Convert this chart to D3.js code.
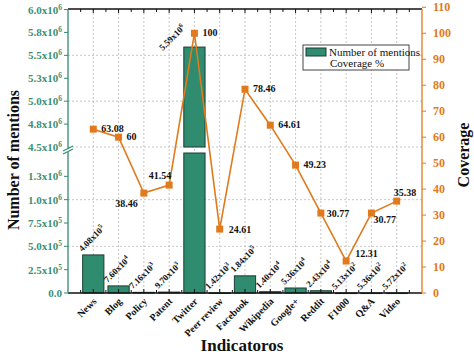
<!DOCTYPE html>
<html><head><meta charset="utf-8">
<script src="https://cdn.jsdelivr.net/npm/d3@7"></script>
<style>body{margin:0;background:#fff}svg{display:block}</style>
</head><body><svg id="c" width="474" height="357"></svg>
<script>
const categories = ["News","Blog","Policy","Patent","Twitter","Peer review","Facebook","Wikipedia","Google+","Reddit","F1000","Q&A","Video"];
const mentions = [408000,76000,7160,9700,5590000,1420,184000,14000,53600,24300,513,536,572];
const mentionLabels = [["4.08x10","5"],["7.60x10","4"],["7.16x10","3"],["9.70x10","3"],["5.59x10","6"],["1.42x10","3"],["1.84x10","5"],["1.40x10","4"],["5.36x10","4"],["2.43x10","4"],["5.13x10","2"],["5.36x10","2"],["5.72x10","2"]];
const coverage = [63.08,60,38.46,41.54,100,24.61,78.46,64.61,49.23,30.77,12.31,30.77,35.38];
const coverageLabels = ["63.08","60","38.46","41.54","100","24.61","78.46","64.61","49.23","30.77","12.31","30.77","35.38"];
const lowerTicks = [0,250000,500000,750000,1000000,1250000];
const lowerTickLabels = [["0.0",""],["2.5x10","5"],["5.0x10","5"],["7.5x10","5"],["1.0x10","6"],["1.3x10","6"]];
const upperTicks = [4500000,4750000,5000000,5250000,5500000,5750000,6000000];
const upperTickLabels = [["4.5x10","6"],["4.8x10","6"],["5.0x10","6"],["5.3x10","6"],["5.5x10","6"],["5.8x10","6"],["6.0x10","6"]];
const rightTicks = [0,10,20,30,40,50,60,70,80,90,100,110];
const gridMentions = [500000,1000000,4500000,5000000,5500000];

const svg = d3.select("#c");
const FONT = "'Liberation Serif','Times New Roman',serif";
const TEAL = "#2f8c6f", TEALTXT = "#3e8f74", ORANGE = "#e07a1c";
const L = 68, R = 422, T = 9, B = 293, BRK_LO = 153, BRK_HI = 147;

const x = d3.scaleLinear().domain([-1, 13]).range([L, R]);
const step = x(1) - x(0);
const yLo = d3.scaleLinear().domain([0, 1500000]).range([B, BRK_LO]);
const yHi = d3.scaleLinear().domain([4500000, 6000000]).range([BRK_HI, T + 0.5]);
const yM = v => v <= 1500000 ? yLo(v) : yHi(v);
const yR = d3.scaleLinear().domain([0, 110]).range([B, 7.3]);

// grid
const g = svg.append("g");
g.selectAll(".vg").data(categories).enter().append("line")
  .attr("x1", (d,i)=>x(i)).attr("x2",(d,i)=>x(i)).attr("y1",T).attr("y2",B)
  .attr("stroke","#b8b8b8").attr("stroke-width",0.8).attr("stroke-dasharray","2,2");
g.selectAll(".hg").data(gridMentions).enter().append("line")
  .attr("x1",L).attr("x2",R).attr("y1",d=>yM(d)).attr("y2",d=>yM(d))
  .attr("stroke","#b8b8b8").attr("stroke-width",0.8).attr("stroke-dasharray","2,2");

// bars
const bw = step*0.84;
const bars = svg.append("g");
categories.forEach((c,i)=>{
  const v = mentions[i];
  if (v <= 1500000) {
    bars.append("rect").attr("x",x(i)-bw/2).attr("y",yLo(v)).attr("width",bw).attr("height",Math.max(0.6,B-yLo(v)))
      .attr("fill",TEAL).attr("stroke","#1c3d33").attr("stroke-width",1);
  } else {
    bars.append("rect").attr("x",x(i)-bw/2).attr("y",BRK_LO).attr("width",bw).attr("height",B-BRK_LO)
      .attr("fill",TEAL).attr("stroke","#1c3d33").attr("stroke-width",1);
    bars.append("rect").attr("x",x(i)-bw/2).attr("y",yHi(v)).attr("width",bw).attr("height",BRK_HI-yHi(v))
      .attr("fill",TEAL).attr("stroke","#1c3d33").attr("stroke-width",1);
  }
});

// bar labels
categories.forEach((c,i)=>{
  const v = mentions[i], top = yM(v);
  let t;
  if (v > 1500000) {
    t = svg.append("text").attr("transform",`translate(${x(i)-bw/2+2},${top-19}) rotate(-45)`).attr("text-anchor","end");
  } else {
    t = svg.append("text").attr("transform",`translate(${x(i)-11},${top-3}) rotate(-45)`);
  }
  t.attr("font-family",FONT).attr("font-weight","bold").attr("font-size",9).attr("fill","#111");
  t.append("tspan").text(mentionLabels[i][0]);
  t.append("tspan").attr("dy",-3.5).attr("font-size",6.5).text(mentionLabels[i][1]);
});

// top & bottom axes
svg.append("line").attr("x1",L).attr("x2",R).attr("y1",T).attr("y2",T).attr("stroke","#111").attr("stroke-width",1.3);
svg.append("line").attr("x1",L).attr("x2",R).attr("y1",B).attr("y2",B).attr("stroke","#111").attr("stroke-width",1.3);
const tickPos = d3.range(-0.5, 13, 0.5);
tickPos.forEach(p=>{
  const len = Number.isInteger(p) ? 4 : 3;
  svg.append("line").attr("x1",x(p)).attr("x2",x(p)).attr("y1",T).attr("y2",T+len).attr("stroke","#111");
  svg.append("line").attr("x1",x(p)).attr("x2",x(p)).attr("y1",B).attr("y2",B-len).attr("stroke","#111");
});

// x labels
categories.forEach((c,i)=>{
  svg.append("text").attr("transform",`translate(${x(i)+4},${B+9}) rotate(-45)`).attr("text-anchor","end")
    .attr("font-family",FONT).attr("font-weight","bold").attr("font-size",10).attr("fill","#111").text(c);
});

// left axis
svg.append("line").attr("x1",L).attr("x2",L).attr("y1",T).attr("y2",BRK_HI+1).attr("stroke",TEAL).attr("stroke-width",1.3);
svg.append("line").attr("x1",L).attr("x2",L).attr("y1",BRK_LO-1).attr("y2",B).attr("stroke",TEAL).attr("stroke-width",1.3);
[BRK_HI+1.5, BRK_LO-1.5].forEach(yy=>{
  svg.append("line").attr("x1",L-5).attr("x2",L+5).attr("y1",yy+2.5).attr("y2",yy-2.5).attr("stroke",TEAL).attr("stroke-width",1.2);
});
function leftTicks(vals, labs, sc){
  vals.forEach((v,i)=>{
    if (!(sc === yHi && i === 0)) svg.append("line").attr("x1",L-4).attr("x2",L).attr("y1",sc(v)).attr("y2",sc(v)).attr("stroke",TEAL);
    const t = svg.append("text").attr("x",L-6).attr("y",sc(v)+4).attr("text-anchor","end")
      .attr("font-family",FONT).attr("font-weight","bold").attr("font-size",11).attr("fill",TEALTXT);
    t.append("tspan").text(labs[i][0]);
    if (labs[i][1]) t.append("tspan").attr("dy",-4).attr("font-size",7.5).text(labs[i][1]);
  });
}
leftTicks(lowerTicks, lowerTickLabels, yLo);
leftTicks(upperTicks, upperTickLabels, yHi);

// right axis
svg.append("line").attr("x1",R).attr("x2",R).attr("y1",T).attr("y2",B).attr("stroke",ORANGE).attr("stroke-width",1.3);
rightTicks.forEach(v=>{
  svg.append("line").attr("x1",R).attr("x2",R+4).attr("y1",yR(v)).attr("y2",yR(v)).attr("stroke",ORANGE);
  svg.append("text").attr("x",R+11).attr("y",yR(v)+4).attr("font-family",FONT).attr("font-weight","bold")
    .attr("font-size",12).attr("fill",ORANGE).text(v);
});

// coverage line
const line = d3.line().x((d,i)=>x(i)).y(d=>yR(d));
svg.append("path").datum(coverage).attr("d",line).attr("fill","none").attr("stroke",ORANGE).attr("stroke-width",1.6);
svg.selectAll(".mk").data(coverage).enter().append("rect")
  .attr("x",(d,i)=>x(i)-3.5).attr("y",d=>yR(d)-3.5).attr("width",7).attr("height",7).attr("fill",ORANGE);

// coverage labels (placement per point)
const place = {"Policy":{dx:-6,dy:14,a:"end"},"Patent":{dx:2,dy:-6,a:"end"},"Reddit":{dx:6,dy:4,a:"start"},
  "F1000":{dx:9,dy:-4,a:"start"},"Q&A":{dx:2,dy:10,a:"start"},"Video":{dx:-3,dy:-5,a:"start"},"Peer review":{dx:9,dy:4,a:"start"}};
coverage.forEach((v,i)=>{
  const p = place[categories[i]] || {dx:8,dy:3,a:"start"};
  svg.append("text").attr("x",x(i)+p.dx).attr("y",yR(v)+p.dy).attr("text-anchor",p.a)
    .attr("font-family",FONT).attr("font-weight","bold").attr("font-size",10).attr("fill","#111").text(coverageLabels[i]);
});

// legend
svg.append("rect").attr("x",303).attr("y",45).attr("width",106).attr("height",25).attr("fill","#fff").attr("stroke","#444").attr("stroke-width",1);
svg.append("rect").attr("x",306).attr("y",48).attr("width",20).attr("height",8).attr("fill",TEAL).attr("stroke","#1c3d33");
svg.append("text").attr("x",329).attr("y",56).attr("font-family",FONT).attr("font-size",11).attr("fill","#111").text("Number of mentions");
svg.append("text").attr("x",330).attr("y",67).attr("font-family",FONT).attr("font-size",11).attr("fill","#111").text("Coverage %");

// titles
svg.append("text").attr("transform","translate(19,160) rotate(-90)").attr("text-anchor","middle")
  .attr("font-family",FONT).attr("font-weight","bold").attr("font-size",16).attr("fill","#111").text("Number of mentions");
svg.append("text").attr("transform","translate(469,155) rotate(-90)").attr("text-anchor","middle")
  .attr("font-family",FONT).attr("font-weight","bold").attr("font-size",16).attr("fill","#111").text("Coverage");
svg.append("text").attr("x",242).attr("y",351).attr("text-anchor","middle")
  .attr("font-family",FONT).attr("font-weight","bold").attr("font-size",17).attr("fill","#111").text("Indicatoros");
</script></body></html>
